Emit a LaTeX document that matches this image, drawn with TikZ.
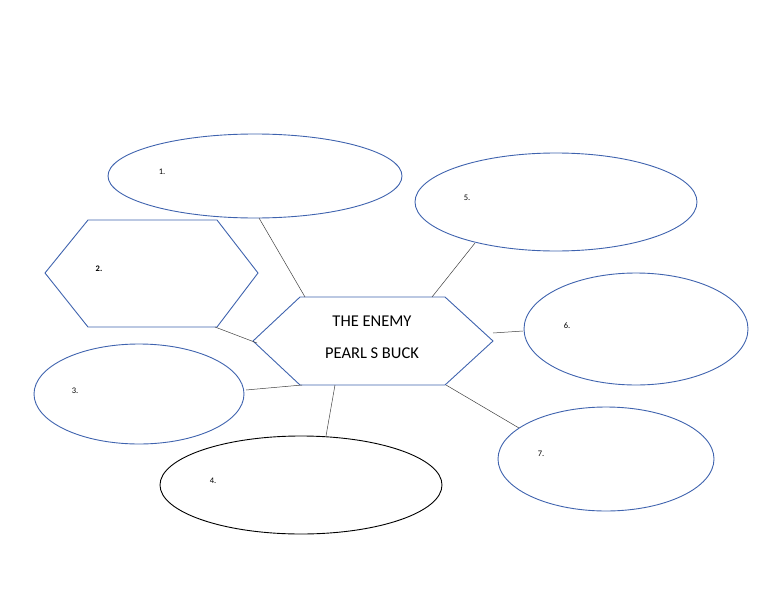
\documentclass[tikz,border=0pt]{standalone}
\usepackage{fontspec}
\setmainfont{Carlito}
\usetikzlibrary{shapes.geometric}
\definecolor{ob}{HTML}{3F63AE}
\begin{document}
\begin{tikzpicture}[x=1pt,y=-1pt,
  ell/.style={ellipse,draw=ob,line width=0.9pt,inner sep=0pt},
  hexline/.style={draw=ob,line width=0.9pt},
  conn/.style={draw=black!75,line width=0.5pt},
  num/.style={font=\fontsize{8.5}{9}\selectfont}]
\useasboundingbox (0,0) rectangle (768,594);
\node[ell,minimum width=294pt,minimum height=84pt] (e1) at (255,176) {};
\node[ell,minimum width=282pt,minimum height=98pt] (e5) at (556,202) {};
\node[ell,minimum width=224pt,minimum height=112pt] (e6) at (636,329) {};
\node[ell,minimum width=216pt,minimum height=104pt] (e7) at (606,459) {};
\node[ell,minimum width=210pt,minimum height=100pt] (e3) at (139,394) {};
\node[ellipse,draw=black,line width=0.9pt,minimum width=282pt,minimum height=98pt] (e4) at (301,485) {};
\draw[hexline] (88,220) -- (217,220) -- (258,273) -- (217,327) -- (88,327) -- (45,273) -- cycle;
\draw[hexline] (300,297) -- (445,297) -- (493,341) -- (445,385) -- (300,385) -- (253,341) -- cycle;
\node[num] (t1) at (162,172) {1.};
\node[num] (t2) at (99,269) {\textbf{2.}};
\node[num] (t3) at (75,391) {3.};
\node[num] (t4) at (213,481) {4.};
\node[num] (t5) at (467,198) {5.};
\node[num] (t6) at (567,326) {6.};
\node[num] (t7) at (541,454) {7.};
\node[font=\fontsize{16.5}{18}\selectfont] (c1) at (372,321) {THE ENEMY};
\node[font=\fontsize{16.5}{18}\selectfont] (c2) at (372,353) {PEARL S BUCK};
\coordinate (a1) at (259,218); \coordinate (b1) at (305,297);
\coordinate (a5) at (475,243); \coordinate (b5) at (432,297);
\coordinate (a6) at (523,331); \coordinate (b6) at (493,333);
\coordinate (a7) at (519,428); \coordinate (b7) at (446,385);
\coordinate (a4) at (326,436); \coordinate (b4) at (335,385);
\coordinate (a3) at (246,390); \coordinate (b3) at (302,385);
\coordinate (a2) at (215,327); \coordinate (b2) at (257,343);
\foreach \i in {1,...,7} \draw[conn] (a\i) -- (b\i);
\end{tikzpicture}
\end{document}
